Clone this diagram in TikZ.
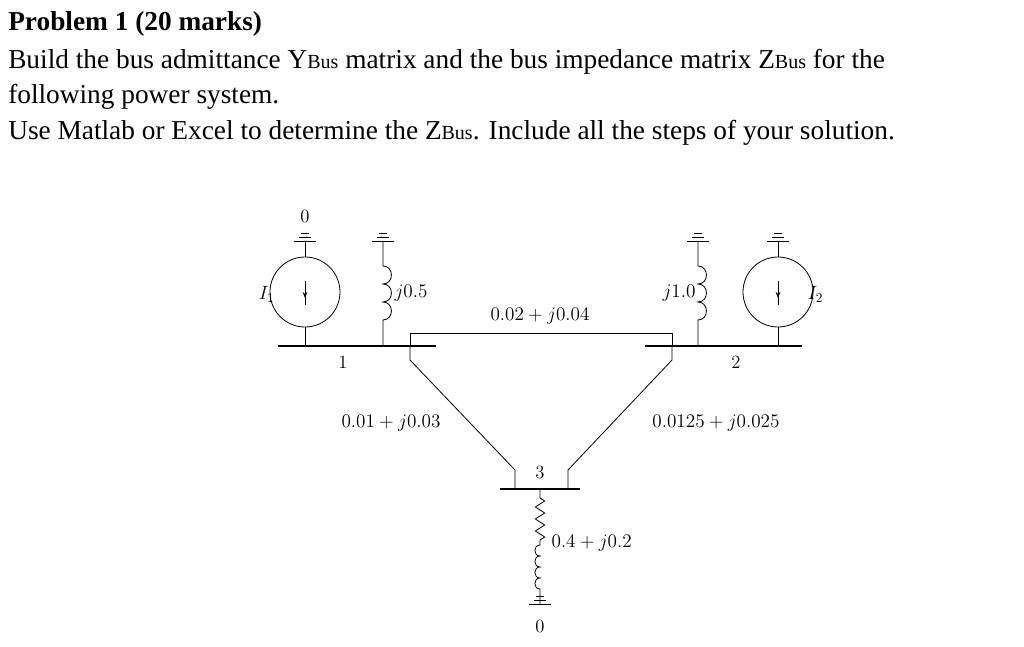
\documentclass[tikz,border=0pt]{standalone}
\usepackage{fontspec}
\setmainfont{Liberation Serif}
\usetikzlibrary{decorations.pathmorphing,arrows.meta}
\newfontfamily\lmr{Latin Modern Roman}
\begin{document}
\begin{tikzpicture}[x=0.75pt,y=-0.75pt,
  wire/.style={line width=0.6pt},
  busbar/.style={line width=2pt},
  lbl/.style={font=\fontsize{14}{16}\selectfont\lmr, inner sep=1pt},
  hdr/.style={font=\fontsize{20.5}{24}\selectfont, anchor=west, inner sep=0pt}]
\def\gnd#1#2{\draw[wire] (#1-11,#2) -- (#1+11,#2) (#1-6,#2-4) -- (#1+6,#2-4) (#1-4,#2-8) -- (#1+4,#2-8);}
\useasboundingbox (0,0) rectangle (1024,646);
% header
\node[hdr,font=\fontsize{20.5}{24}\selectfont\bfseries] (h1) at (8,24) {Problem 1 (20 marks)};
\node[hdr] (h2) at (8,62) {Build the bus admittance Y{\fontsize{15}{16}\selectfont Bus} matrix and the bus impedance matrix Z{\fontsize{15}{16}\selectfont Bus} for the};
\node[hdr] (h3) at (8,97) {following power system.};
\node[hdr] (h4) at (8,133) {Use Matlab or Excel to determine the Z{\fontsize{15}{16}\selectfont Bus}. Include all the steps of your solution.};
% buses
\coordinate (b1l) at (278,346); \coordinate (b1r) at (436,346);
\coordinate (b2l) at (645,346); \coordinate (b2r) at (802,346);
\coordinate (b3l) at (500,489); \coordinate (b3r) at (580,489);
\draw[busbar] (b1l) -- (b1r);
\draw[busbar] (b2l) -- (b2r);
\draw[busbar] (b3l) -- (b3r);
\node[lbl] (n1) at (343,362) {1};
\node[lbl] (n2) at (736,362) {2};
\node[lbl] (n3) at (540,472) {3};
% current source 1
\node[draw,circle,minimum size=52.5pt,inner sep=0pt,wire] (I1) at (305,292) {};
\draw[wire] (305,241) -- (I1.north) (I1.south) -- (305,346);
\draw[wire,-{Stealth[length=4.5pt,width=3.5pt]}] (305,281) -- (305,298);
\draw[wire] (305,296) -- (305,305);
\gnd{305}{241}
\node[lbl] (z0a) at (305,216) {0};
\node[lbl,anchor=east] (li1) at (276,294) {$I_1$};
% source 2
\node[draw,circle,minimum size=52.5pt,inner sep=0pt,wire] (I2) at (778,292) {};
\draw[wire] (778,241) -- (I2.north) (I2.south) -- (778,346);
\draw[wire,-{Stealth[length=4.5pt,width=3.5pt]}] (778,281) -- (778,298);
\draw[wire] (778,296) -- (778,305);
\gnd{778}{241}
\node[lbl,anchor=west] (li2) at (806,294) {$I_2$};
% inductor bus 1
\gnd{383}{241}
\draw[wire] (383,241) -- (383,266)
  to[out=0,in=0,looseness=1.6] (383,284) to[out=0,in=0,looseness=1.6] (383,302) to[out=0,in=0,looseness=1.6] (383,320) -- (383,346);
\node[lbl,anchor=west] (lj05) at (393,293) {$j0.5$};
% inductor bus 2
\gnd{698}{241}
\draw[wire] (698,241) -- (698,266)
  to[out=0,in=0,looseness=1.6] (698,284) to[out=0,in=0,looseness=1.6] (698,302) to[out=0,in=0,looseness=1.6] (698,320) -- (698,346);
\node[lbl,anchor=east] (lj10) at (697,293) {$j1.0$};
% lines
\draw[wire] (410,346) -- (410,333) -- (672,333) -- (672,346);
\node[lbl] (l12) at (540,316) {$0.02+j0.04$};
\draw[wire] (410,346) -- (410,360) -- (515,470) -- (515,489);
\node[lbl] (l13) at (391,423) {$0.01+j0.03$};
\draw[wire] (672,346) -- (672,360) -- (568,470) -- (568,489);
\node[lbl] (l23) at (716,423) {$0.0125+j0.025$};
% load at bus 3
\draw[wire] (540,489) -- (540,498)
  decorate[decoration={zigzag,segment length=9pt,amplitude=3.5pt}]{-- (540,545)}
  to[out=180,in=180,looseness=1.6] (540,556) to[out=180,in=180,looseness=1.6] (540,567) to[out=180,in=180,looseness=1.6] (540,578) to[out=180,in=180,looseness=1.6] (540,589) -- (540,604);
\gnd{540}{604}
\node[lbl] (z0b) at (540,626) {0};
\node[lbl,anchor=west] (l3) at (550,543) {$0.4+j0.2$};
\end{tikzpicture}
\end{document}
